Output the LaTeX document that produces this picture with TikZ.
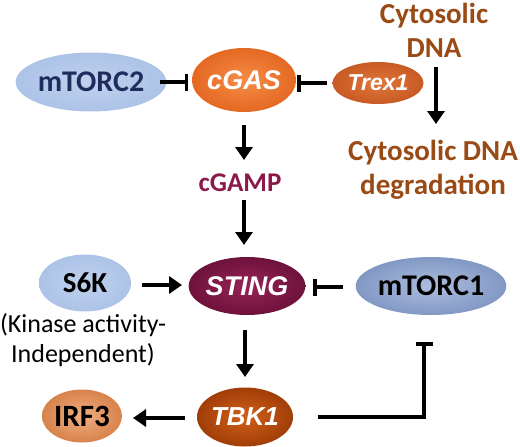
\documentclass[tikz,border=0pt]{standalone}
\usepackage{fontspec}
\setmainfont{Carlito}
\newfontfamily\arialf{Liberation Sans}
\usetikzlibrary{arrows.meta,shapes.geometric}
\definecolor{navy}{HTML}{1F2D5E}
\definecolor{brownt}{HTML}{9A4A14}
\definecolor{gampc}{HTML}{8B1A4B}
\tikzset{
  ell/.style={ellipse, inner sep=0pt},
  lightblue/.style={ell, shade, inner color={rgb,255:red,192;green,209;blue,238}, outer color={rgb,255:red,172;green,195;blue,231}},
  bluegrey/.style={ell, shade, inner color={rgb,255:red,172;green,189;blue,222}, outer color={rgb,255:red,130;green,152;blue,196}},
  orangeell/.style={ell, shade, inner color={rgb,255:red,246;green,140;blue,70}, outer color={rgb,255:red,228;green,105;blue,35}},
  trexell/.style={ell, shade, inner color={rgb,255:red,224;green,120;blue,60}, outer color={rgb,255:red,200;green,90;blue,35}},
  stingell/.style={ell, shade, inner color={rgb,255:red,150;green,35;blue,85}, outer color={rgb,255:red,110;green,18;blue,60}},
  tbkell/.style={ell, shade, inner color={rgb,255:red,210;green,95;blue,25}, outer color={rgb,255:red,160;green,62;blue,8}},
  irfell/.style={ell, shade, inner color={rgb,255:red,240;green,175;blue,130}, outer color={rgb,255:red,215;green,130;blue,75}},
  wtxt/.style={text=white, font=\arialf\bfseries\itshape\fontsize{26}{28}\selectfont},
  ktxt/.style={text=black, font=\bfseries\fontsize{30}{32}\selectfont},
  act/.style={line width=3.5pt, -{Triangle[width=17pt,length=13pt]}},
  inh/.style={line width=3.5pt, -{Bar[width=17pt,line width=3.5pt]}},
}
\begin{document}
\begin{tikzpicture}[x=1pt,y=-1pt]
\useasboundingbox (0,0) rectangle (520,447);
% nodes
\node[lightblue, minimum width=127pt, minimum height=59pt, ktxt, text=navy] (mtorc2) at (91,82) {mTORC2};
\node[orangeell, minimum width=92pt, minimum height=64pt, wtxt, font=\arialf\bfseries\itshape\fontsize{27}{28}\selectfont] (cgas) at (244,80) {cGAS};
\node[trexell, minimum width=91pt, minimum height=42pt, wtxt, font=\arialf\bfseries\itshape\fontsize{23}{24}\selectfont] (trex) at (378,83) {Trex1};
\node[text=brownt, font=\bfseries\fontsize{29}{34}\selectfont, align=center, inner sep=0pt] (cdna) at (434,30) {Cytosolic\\DNA};
\node[text=brownt, font=\bfseries\fontsize{29}{34}\selectfont, align=center, inner sep=0pt] (cdeg) at (433,170) {Cytosolic DNA\\degradation};
\node[text=gampc, font=\bfseries\fontsize{27}{28}\selectfont, inner sep=0pt] (cgamp) at (240,183) {cGAMP};
\node[stingell, minimum width=111pt, minimum height=58pt, wtxt, font=\arialf\bfseries\itshape\fontsize{27}{28}\selectfont] (sting) at (247,286) {STING};
\node[lightblue, minimum width=92pt, minimum height=57pt, ktxt, font=\bfseries\fontsize{29}{30}\selectfont] (s6k) at (85,283) {S6K};
\node[font=\fontsize{26}{30}\selectfont, align=center, inner sep=0pt] (kin) at (83,340) {(Kinase activity-\\Independent)};
\node[bluegrey, minimum width=127pt, minimum height=58pt, ktxt] (mtorc1) at (431,286) {mTORC1};
\node[tbkell, minimum width=90pt, minimum height=59pt, wtxt] (tbk) at (245,417) {TBK1};
\node[irfell, minimum width=80pt, minimum height=53pt, ktxt, font=\bfseries\fontsize{31}{32}\selectfont] (irf) at (82,416) {IRF3};
% coordinates
\coordinate (c1) at (160,82);
\coordinate (c2) at (188,82);
\coordinate (t1) at (327,83);
\coordinate (t2) at (297,83);
\coordinate (d1) at (436,67);
\coordinate (d2) at (436,124);
\coordinate (g1) at (244,125);
\coordinate (g2) at (244,160);
\coordinate (p1) at (244,200);
\coordinate (p2) at (244,245);
\coordinate (s1) at (142,285);
\coordinate (s2) at (182,285);
\coordinate (m1) at (343,287);
\coordinate (m2) at (313,287);
\coordinate (b1) at (245,330);
\coordinate (b2) at (245,377);
\coordinate (i1) at (185,418);
\coordinate (i2) at (133,418);
\coordinate (k1) at (318,417);
\coordinate (k2) at (424,417);
\coordinate (k3) at (424,342);
% connectors
\draw[inh] (c1) -- (c2);
\draw[inh] (t1) -- (t2);
\draw[act] (d1) -- (d2);
\draw[act] (g1) -- (g2);
\draw[act] (p1) -- (p2);
\draw[act] (s1) -- (s2);
\draw[inh] (m1) -- (m2);
\draw[act] (b1) -- (b2);
\draw[act] (i1) -- (i2);
\draw[inh, line join=miter] (k1) -- (k2) -- (k3);
\end{tikzpicture}
\end{document}
